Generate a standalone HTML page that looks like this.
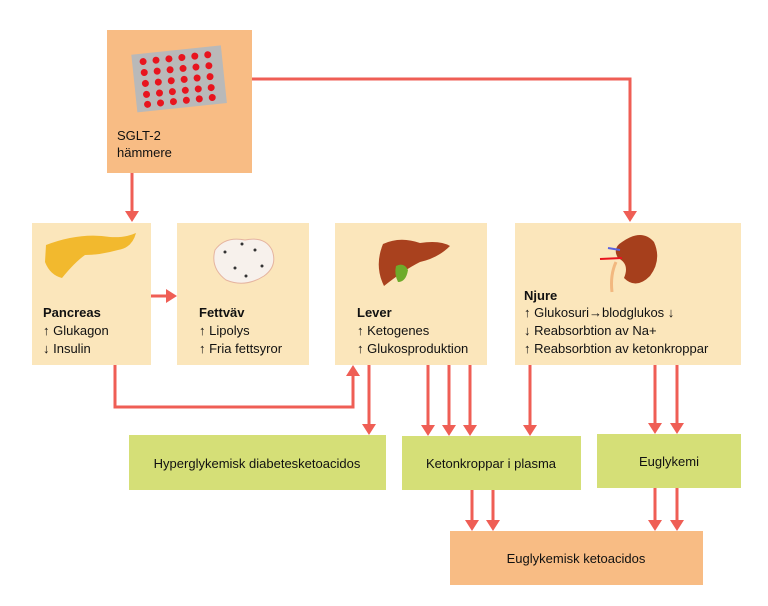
<!DOCTYPE html>
<html><head><meta charset="utf-8"><style>
html,body{margin:0;padding:0;background:#fff;}
svg{display:block;font-family:"Liberation Sans",sans-serif;}
</style></head><body>
<svg width="768" height="606" viewBox="0 0 768 606" xmlns="http://www.w3.org/2000/svg">
<g fill="#f8bc84"><rect x="107" y="30" width="145" height="143"/><rect x="450" y="531" width="253" height="54"/></g>
<g fill="#fbe6bb"><rect x="32" y="223" width="119" height="142"/><rect x="177" y="223" width="132" height="142"/><rect x="335" y="223" width="152" height="142"/><rect x="515" y="223" width="226" height="142"/></g>
<g fill="#d5df77"><rect x="129" y="435" width="257" height="55"/><rect x="402" y="436" width="179" height="54"/><rect x="597" y="434" width="144" height="54"/></g>
<g stroke="#ef5e55" stroke-width="3" fill="none">
<polyline points="252,79 630,79 630,212"/>
<line x1="132" y1="173" x2="132" y2="212"/>
<line x1="151" y1="296" x2="167" y2="296"/>
<polyline points="115,365 115,407 353,407 353,375"/>
<line x1="369" y1="365" x2="369" y2="425"/>
<line x1="428" y1="365" x2="428" y2="426"/>
<line x1="449" y1="365" x2="449" y2="426"/>
<line x1="470" y1="365" x2="470" y2="426"/>
<line x1="530" y1="365" x2="530" y2="426"/>
<line x1="655" y1="365" x2="655" y2="424"/>
<line x1="677" y1="365" x2="677" y2="424"/>
<line x1="472" y1="490" x2="472" y2="521"/>
<line x1="493" y1="490" x2="493" y2="521"/>
<line x1="655" y1="488" x2="655" y2="521"/>
<line x1="677" y1="488" x2="677" y2="521"/>
</g>
<g fill="#ef5e55">
<path d="M623,211 L637,211 L630,222 z"/>
<path d="M125,211 L139,211 L132,222 z"/>
<path d="M166,289 L166,303 L177,296 z"/>
<path d="M346,376 L360,376 L353,365 z"/>
<path d="M362,424 L376,424 L369,435 z"/>
<path d="M421,425 L435,425 L428,436 z"/>
<path d="M442,425 L456,425 L449,436 z"/>
<path d="M463,425 L477,425 L470,436 z"/>
<path d="M523,425 L537,425 L530,436 z"/>
<path d="M648,423 L662,423 L655,434 z"/>
<path d="M670,423 L684,423 L677,434 z"/>
<path d="M465,520 L479,520 L472,531 z"/>
<path d="M486,520 L500,520 L493,531 z"/>
<path d="M648,520 L662,520 L655,531 z"/>
<path d="M670,520 L684,520 L677,531 z"/>
</g>
<!-- pill pack -->
<g transform="rotate(-6 178 78)">
<rect x="134" y="50" width="90" height="58" fill="#b9b9b9"/>
<g fill="#e8141e">
<circle cx="145" cy="58" r="3.5"/><circle cx="158" cy="58" r="3.5"/><circle cx="171" cy="58" r="3.5"/><circle cx="184" cy="58" r="3.5"/><circle cx="197" cy="58" r="3.5"/><circle cx="210" cy="58" r="3.5"/>
<circle cx="145" cy="69" r="3.5"/><circle cx="158" cy="69" r="3.5"/><circle cx="171" cy="69" r="3.5"/><circle cx="184" cy="69" r="3.5"/><circle cx="197" cy="69" r="3.5"/><circle cx="210" cy="69" r="3.5"/>
<circle cx="145" cy="80" r="3.5"/><circle cx="158" cy="80" r="3.5"/><circle cx="171" cy="80" r="3.5"/><circle cx="184" cy="80" r="3.5"/><circle cx="197" cy="80" r="3.5"/><circle cx="210" cy="80" r="3.5"/>
<circle cx="145" cy="91" r="3.5"/><circle cx="158" cy="91" r="3.5"/><circle cx="171" cy="91" r="3.5"/><circle cx="184" cy="91" r="3.5"/><circle cx="197" cy="91" r="3.5"/><circle cx="210" cy="91" r="3.5"/>
<circle cx="145" cy="101" r="3.5"/><circle cx="158" cy="101" r="3.5"/><circle cx="171" cy="101" r="3.5"/><circle cx="184" cy="101" r="3.5"/><circle cx="197" cy="101" r="3.5"/><circle cx="210" cy="101" r="3.5"/>
</g></g>
<!-- pancreas -->
<path d="M46,245 Q80,232 110,237 Q125,238 136,233 Q132,248 118,250 Q100,255 85,255 Q75,262 62,278 Q50,275 45,262 z" fill="#f2b92e"/>
<!-- fat -->
<path d="M215,250 Q225,236 245,240 Q265,236 272,250 Q278,266 264,276 Q245,288 226,280 Q210,268 215,250 z" fill="#f7f1ec" stroke="#e5b4a0" stroke-width="1"/>
<g fill="#333"><circle cx="225" cy="252" r="1.5"/><circle cx="235" cy="268" r="1.5"/><circle cx="255" cy="250" r="1.5"/><circle cx="262" cy="266" r="1.5"/><circle cx="246" cy="276" r="1.5"/><circle cx="242" cy="244" r="1.5"/></g>
<!-- liver -->
<path d="M383,244 Q400,236 420,243 Q440,240 450,246 Q438,258 420,262 Q404,270 384,286 Q374,266 383,244 z" fill="#a9411e"/>
<path d="M396,266 Q404,262 408,270 Q406,282 398,282 Q394,274 396,266 z" fill="#6eab2a"/>
<!-- kidney -->
<path d="M622,242 Q642,228 654,242 Q662,260 650,276 Q636,290 624,278 Q630,264 618,258 Q612,248 622,242 z" fill="#a63f1c"/>
<path d="M608,248 L620,250" stroke="#5a62e0" stroke-width="2"/>
<path d="M600,259 L622,258" stroke="#e8141e" stroke-width="2"/>
<path d="M616,262 Q610,275 612,292" stroke="#f2b880" stroke-width="3" fill="none"/>
<g font-size="13" fill="#111">
<text x="117" y="140">SGLT-2</text>
<text x="117" y="157">hämmere</text>
<text x="43" y="317" font-weight="bold">Pancreas</text>
<text x="43" y="335">↑ Glukagon</text>
<text x="43" y="353">↓ Insulin</text>
<text x="199" y="317" font-weight="bold">Fettväv</text>
<text x="199" y="335">↑ Lipolys</text>
<text x="199" y="353">↑ Fria fettsyror</text>
<text x="357" y="317" font-weight="bold">Lever</text>
<text x="357" y="335">↑ Ketogenes</text>
<text x="357" y="353">↑ Glukosproduktion</text>
<text x="524" y="300" font-weight="bold">Njure</text>
<text x="524" y="317">↑ Glukosuri→blodglukos ↓</text>
<text x="524" y="335">↓ Reabsorbtion av Na+</text>
<text x="524" y="353">↑ Reabsorbtion av ketonkroppar</text>
<text x="257" y="468" text-anchor="middle">Hyperglykemisk diabetesketoacidos</text>
<text x="491" y="468" text-anchor="middle">Ketonkroppar i plasma</text>
<text x="669" y="466" text-anchor="middle">Euglykemi</text>
<text x="576" y="563" text-anchor="middle">Euglykemisk ketoacidos</text>
</g>
</svg>
</body></html>
